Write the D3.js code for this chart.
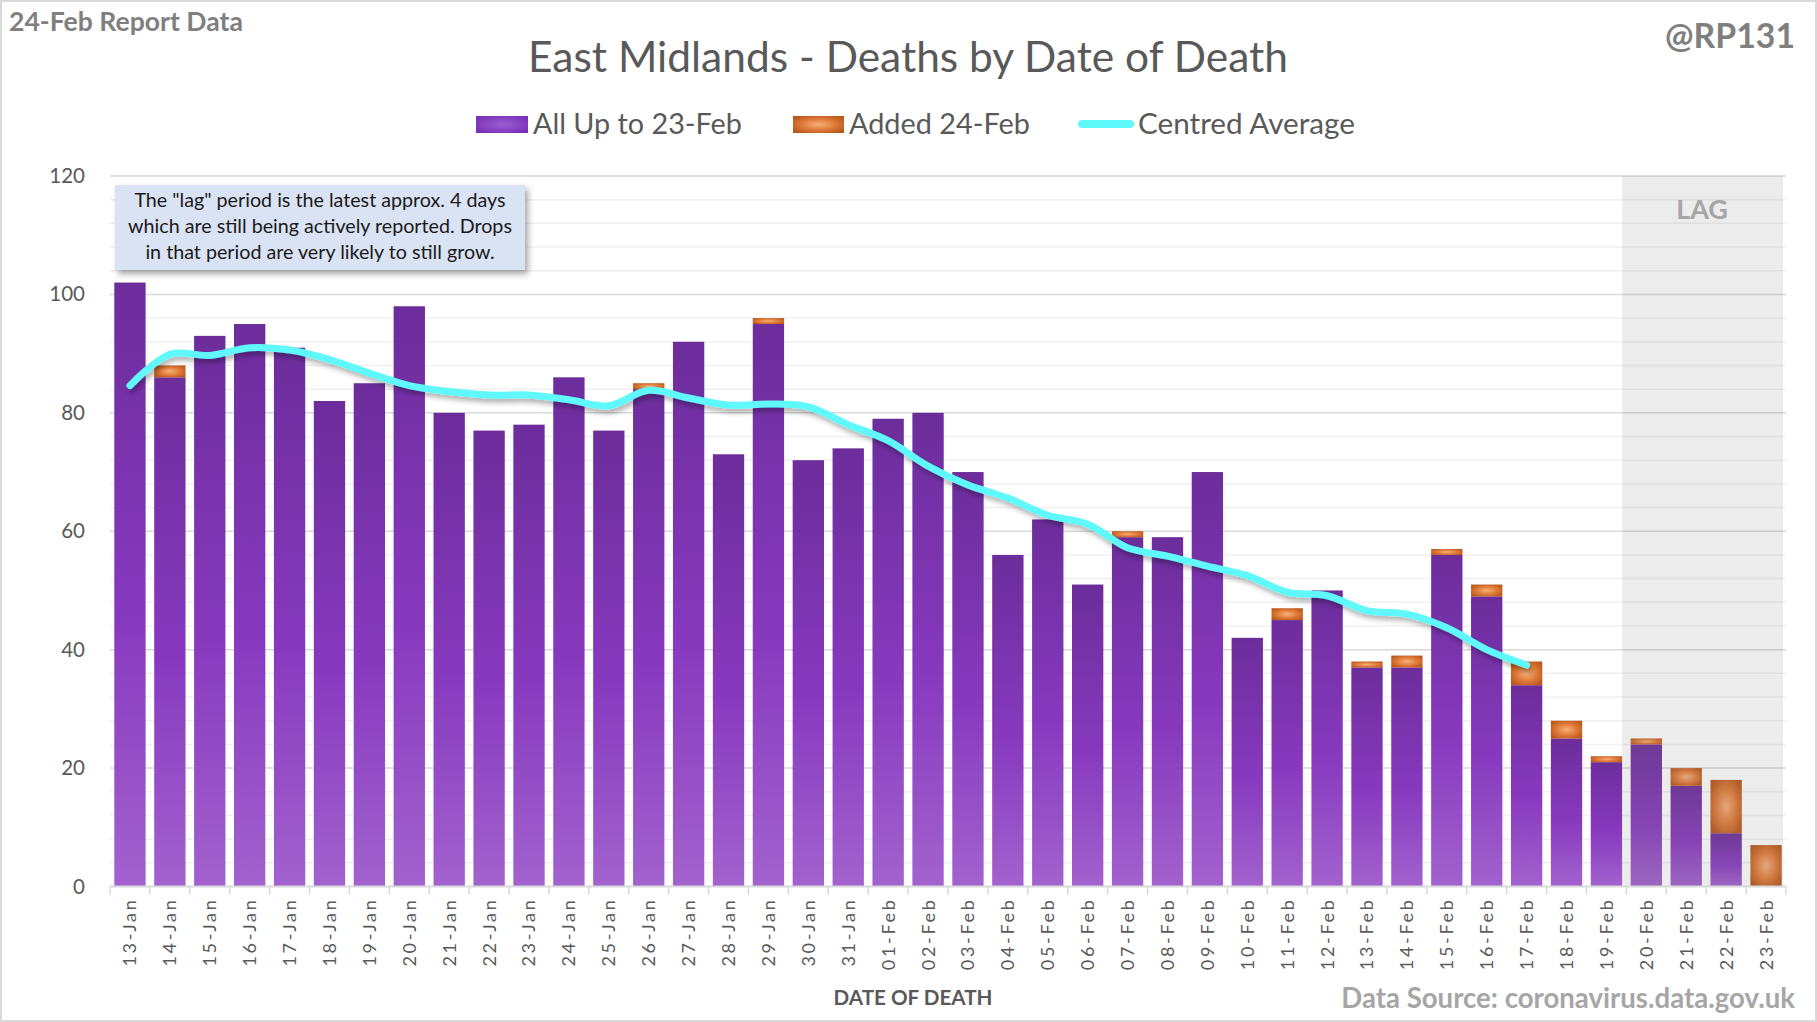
<!DOCTYPE html>
<html><head><meta charset="utf-8">
<script src="https://cdn.jsdelivr.net/npm/d3@7"></script>
<style>html,body{margin:0;padding:0;background:#fff;}svg{display:block;font-family:Lato,"Open Sans",sans-serif;}</style>
</head><body>
<svg id="chart" width="1817" height="1022"></svg>
<script>
const dates = ["13-Jan","14-Jan","15-Jan","16-Jan","17-Jan","18-Jan","19-Jan","20-Jan","21-Jan","22-Jan","23-Jan","24-Jan","25-Jan","26-Jan","27-Jan","28-Jan","29-Jan","30-Jan","31-Jan",
"01-Feb","02-Feb","03-Feb","04-Feb","05-Feb","06-Feb","07-Feb","08-Feb","09-Feb","10-Feb","11-Feb","12-Feb","13-Feb","14-Feb","15-Feb","16-Feb","17-Feb","18-Feb","19-Feb","20-Feb","21-Feb","22-Feb","23-Feb"];
const allUpTo = [102,86,93,95,91,82,85,98,80,77,78,86,77,84,92,73,95,72,74,
79,80,70,56,62,51,59,59,70,42,45,50,37,37,56,49,34,25,21,24,17,9,0];
const added = [0,2,0,0,0,0,0,0,0,0,0,0,0,1,0,0,1,0,0,
0,0,0,0,0,0,1,0,0,0,2,0,1,2,1,2,4,3,1,1,3,9,7];
const centredAvg = [84.6,89.9,89.7,91,90.6,89,86.7,84.6,83.6,83,83,82.2,81.2,83.8,82.5,81.3,81.5,81,78,
75.3,71,67.8,65.6,62.7,61.2,57.2,55.8,54.1,52.5,49.7,49.1,46.6,46,43.7,40,37.4];
const lagDates = ["20-Feb","21-Feb","22-Feb","23-Feb"];
const yTicks = [0,20,40,60,80,100,120];
const seriesNames = ["All Up to 23-Feb","Added 24-Feb","Centred Average"];
const noteLines = ["The \"lag\" period is the latest approx. 4 days","which are still being actively reported.  Drops","in that period are very likely to still grow."];

const W = 1817, H = 1022;
const m = {left:110, right:1786, top:176, bottom:886.5};
const svg = d3.select("#chart");
const defs = svg.append("defs");

// gradients
const gp = defs.append("linearGradient").attr("id","gPurple").attr("x1",0).attr("y1",0).attr("x2",0).attr("y2",1);
gp.append("stop").attr("offset","0%").attr("stop-color","#6c2d9b");
gp.append("stop").attr("offset","55%").attr("stop-color","#8739be");
gp.append("stop").attr("offset","100%").attr("stop-color","#a262ce");
const go = defs.append("radialGradient").attr("id","gOrange").attr("cx","50%").attr("cy","50%").attr("r","60%");
go.append("stop").attr("offset","0%").attr("stop-color","#f6b07c");
go.append("stop").attr("offset","55%").attr("stop-color","#e07a38");
go.append("stop").attr("offset","100%").attr("stop-color","#b9581c");
const gpl = defs.append("radialGradient").attr("id","gPurpleLeg").attr("cx","50%").attr("cy","50%").attr("r","60%");
gpl.append("stop").attr("offset","0%").attr("stop-color","#9a5fd0");
gpl.append("stop").attr("offset","100%").attr("stop-color","#7a30b8");
const sh = defs.append("filter").attr("id","shadow").attr("x","-10%").attr("y","-10%").attr("width","130%").attr("height","140%");
sh.append("feDropShadow").attr("dx",3).attr("dy",4).attr("stdDeviation",3).attr("flood-color","#000").attr("flood-opacity",0.35);
const lsh = defs.append("filter").attr("id","lshadow").attr("x","-5%").attr("y","-20%").attr("width","110%").attr("height","140%");
lsh.append("feDropShadow").attr("dx",2).attr("dy",4).attr("stdDeviation",2.5).attr("flood-color","#000").attr("flood-opacity",0.3);

// border
svg.append("rect").attr("x",1).attr("y",1).attr("width",W-2).attr("height",H-2).attr("fill","#fff").attr("stroke","#d9d9d9").attr("stroke-width",2);

const x = d3.scaleBand().domain(dates).range([m.left,m.right]).paddingInner(0.215).paddingOuter(0.1075);
const y = d3.scaleLinear().domain([0,120]).range([m.bottom,m.top]);

// gridlines minor then major
const minor = d3.range(0,121,4).filter(v=>v%20!==0);
svg.append("g").selectAll("line").data(minor).join("line")
  .attr("x1",m.left).attr("x2",m.right).attr("y1",d=>y(d)).attr("y2",d=>y(d))
  .attr("stroke","#f0f0f0").attr("stroke-width",1.5);
svg.append("g").selectAll("line").data(yTicks.filter(v=>v>0)).join("line")
  .attr("x1",m.left).attr("x2",m.right).attr("y1",d=>y(d)).attr("y2",d=>y(d))
  .attr("stroke","#d9d9d9").attr("stroke-width",1.5);

// bars
const data = dates.map((d,i)=>({d, a:allUpTo[i], b:added[i]}));
svg.append("g").selectAll("rect").data(data.filter(d=>d.a>0)).join("rect")
  .attr("x",d=>x(d.d)).attr("width",x.bandwidth())
  .attr("y",d=>y(d.a)).attr("height",d=>y(0)-y(d.a))
  .attr("fill","url(#gPurple)");
svg.append("g").selectAll("rect").data(data.filter(d=>d.b>0)).join("rect")
  .attr("x",d=>x(d.d)).attr("width",x.bandwidth())
  .attr("y",d=>y(d.a+d.b)).attr("height",d=>y(d.a)-y(d.a+d.b))
  .attr("fill","url(#gOrange)");

// lag overlay (starts at right edge of the bar before the lag period)
const step = x.step();
const prevDate = dates[dates.indexOf(lagDates[0])-1];
const lagX0 = x(prevDate) + x.bandwidth();
svg.append("rect").attr("x",lagX0).attr("y",m.top).attr("width",m.right-3-lagX0).attr("height",m.bottom-m.top)
  .attr("fill","#808080").attr("fill-opacity",0.15);
svg.append("text").attr("x",lagX0+(m.right-lagX0)/2-2).attr("y",219).attr("text-anchor","middle")
  .attr("font-size",27).attr("font-weight","bold").attr("fill","#a6a6a6").text("LAG");

// centred average line
const line = d3.line().x((d,i)=>x(dates[i])+x.bandwidth()/2).y(d=>y(d)).curve(d3.curveCatmullRom.alpha(0.5));
svg.append("path").datum(centredAvg).attr("d",line).attr("fill","none")
  .attr("stroke","#5ff9fb").attr("stroke-width",7).attr("stroke-linecap","round").attr("filter","url(#lshadow)");

// x axis
svg.append("line").attr("x1",m.left).attr("x2",m.right).attr("y1",m.bottom).attr("y2",m.bottom).attr("stroke","#d9d9d9").attr("stroke-width",2);
const bounds = dates.map(d=>x(d)-step*x.paddingInner()/2).concat([m.right]);
svg.append("g").selectAll("line").data(bounds).join("line")
  .attr("x1",d=>d).attr("x2",d=>d).attr("y1",m.bottom).attr("y2",m.bottom+8).attr("stroke","#d9d9d9").attr("stroke-width",1.5);
const xa = svg.append("g").attr("transform",`translate(0,${m.bottom})`).call(d3.axisBottom(x).tickSize(0));
xa.select(".domain").remove();
xa.selectAll("text").attr("transform","rotate(-90)").attr("text-anchor","end")
  .attr("x",-11).attr("y",0).attr("dy","0.36em")
  .attr("font-family","Lato, sans-serif").attr("font-size",18).attr("letter-spacing",2.7).attr("fill","#595959");

// y axis labels
const ya = svg.append("g").attr("transform",`translate(${m.left},0)`).call(d3.axisLeft(y).tickValues(yTicks).tickSize(0).tickPadding(25));
ya.select(".domain").remove();
ya.selectAll("text").attr("font-family","Lato, sans-serif").attr("font-size",20.5).attr("fill","#595959");

function fit(sel, target){
  const l = sel.node().getComputedTextLength();
  const fs = parseFloat(sel.attr("font-size"));
  sel.attr("font-size", fs*target/l);
}

// titles
fit(svg.append("text").attr("x",908).attr("y",72).attr("text-anchor","middle").attr("font-size",42).attr("fill","#595959")
  .text("East Midlands - Deaths by Date of Death"), 760);
fit(svg.append("text").attr("x",9).attr("y",31).attr("font-size",22).attr("font-weight","bold").attr("fill","#7f7f7f")
  .text("24-Feb Report Data"), 234);
fit(svg.append("text").attr("x",1795).attr("y",48).attr("text-anchor","end").attr("font-size",30).attr("font-weight","bold").attr("fill","#7f7f7f")
  .text("@RP131"), 130);
fit(svg.append("text").attr("x",913).attr("y",1005).attr("text-anchor","middle").attr("font-size",20).attr("font-weight","bold").attr("fill","#595959")
  .text("DATE OF DEATH"), 159);
fit(svg.append("text").attr("x",1795).attr("y",1008).attr("text-anchor","end").attr("font-size",26).attr("font-weight","bold").attr("fill","#a6a6a6")
  .text("Data Source: coronavirus.data.gov.uk"), 454);

// legend
const leg = svg.append("g");
leg.append("rect").attr("x",476).attr("y",116).attr("width",52).attr("height",17).attr("fill","url(#gPurpleLeg)");
fit(leg.append("text").attr("x",533).attr("y",134).attr("font-size",28).attr("fill","#595959").text(seriesNames[0]), 209);
leg.append("rect").attr("x",793).attr("y",116).attr("width",51).attr("height",17).attr("fill","url(#gOrange)");
fit(leg.append("text").attr("x",849).attr("y",134).attr("font-size",28).attr("fill","#595959").text(seriesNames[1]), 181);
leg.append("line").attr("x1",1082).attr("x2",1130).attr("y1",124).attr("y2",124).attr("stroke","#5ff9fb").attr("stroke-width",8).attr("stroke-linecap","round");
fit(leg.append("text").attr("x",1138).attr("y",134).attr("font-size",28).attr("fill","#595959").text(seriesNames[2]), 217);

// annotation box
const nb = svg.append("g");
nb.append("rect").attr("x",115).attr("y",185).attr("width",410).attr("height",85).attr("fill","#dae3f3").attr("filter","url(#shadow)");
const nt = nb.selectAll("text").data(noteLines).join("text")
  .attr("x",320).attr("y",(d,i)=>207+i*26).attr("text-anchor","middle").attr("font-size",18).attr("fill","#1a1a1a").text(d=>d);
const w2 = nt.nodes()[1].getComputedTextLength();
nt.attr("font-size", 18*384/w2);
</script>
</body></html>
